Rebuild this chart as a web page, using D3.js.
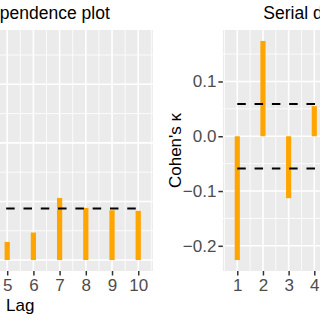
<!DOCTYPE html>
<html>
<head>
<meta charset="utf-8">
<script src="https://cdn.jsdelivr.net/npm/d3@7"></script>
<style>
  body { margin: 0; background: #fff; }
  text { font-family: 'Liberation Sans', Arial, sans-serif; }
</style>
</head>
<body>
<div id="chart-area"></div>
<script>
// DATA
const lagTicks = [1, 2, 3, 4, 5, 6, 7, 8, 9, 10]
const title = 'Serial dependence plot'

// left panel: only lags 5-10 are inside the picture
const leftLags = [5, 6, 7, 8, 9, 10]
const leftValues = [0.031, 0.047, 0.106, 0.089, 0.085, 0.084]
const leftDataRange = [0, 0.374]   // full range of the series (lags 1-4 are cut off)
const leftBounds = [0.088]
const leftYTicks = [0, 0.1, 0.2, 0.3]

// right panel: only lags 1-4 are inside the picture
const rightLags = [1, 2, 3, 4]
const rightValues = [-0.226, 0.174, -0.113, 0.055]
const rightBounds = [0.059, -0.059]
const rightYTicks = [-0.2, -0.1, 0.0, 0.1]
const rightYLabel = "Cohen's κ"

const W = 320
const H = 320
const TOP = 30
const BOTTOM = 271

const svg = d3.select('#chart-area').append('svg')
  .attr('width', W)
  .attr('height', H)

function panel(opts) {
  const { x0, x1, lags, values, range, bounds, yTicks, yLabel } = opts
  const g = svg.append('g')

  // SCALES (bars have width 0.2, ggplot-like 5% expansion)
  const xMin = d3.min(lagTicks) - 0.1
  const xMax = d3.max(lagTicks) + 0.1
  const xPad = (xMax - xMin) * 0.05
  const x = d3.scaleLinear()
    .domain([xMin - xPad, xMax + xPad])
    .range([x0, x1])

  const yPad = (range[1] - range[0]) * 0.05
  const y = d3.scaleLinear()
    .domain([range[0] - yPad, range[1] + yPad])
    .range([BOTTOM, TOP])

  // PANEL BACKGROUND
  g.append('rect')
    .attr('x', x0)
    .attr('y', TOP)
    .attr('width', x1 - x0)
    .attr('height', BOTTOM - TOP)
    .attr('fill', '#EBEBEB')

  // GRID
  const xd = x.domain()
  const yd = y.domain()
  const step = yTicks[1] - yTicks[0]
  const yMinor = d3.range(yTicks[0] - step / 2, yd[1], step).filter(v => v >= yd[0])
  const xMinor = d3.range(lagTicks[0] - 0.5, xd[1], 1).filter(v => v >= xd[0])

  g.selectAll('.ygrid-minor').data(yMinor).enter().append('line')
    .attr('x1', x0).attr('x2', x1)
    .attr('y1', d => y(d)).attr('y2', d => y(d))
    .attr('stroke', '#fff').attr('stroke-width', 0.8)
  g.selectAll('.xgrid-minor').data(xMinor).enter().append('line')
    .attr('y1', TOP).attr('y2', BOTTOM)
    .attr('x1', d => x(d)).attr('x2', d => x(d))
    .attr('stroke', '#fff').attr('stroke-width', 0.8)
  g.selectAll('.ygrid').data(yTicks).enter().append('line')
    .attr('x1', x0).attr('x2', x1)
    .attr('y1', d => y(d)).attr('y2', d => y(d))
    .attr('stroke', '#fff').attr('stroke-width', 1.6)
  g.selectAll('.xgrid').data(lagTicks).enter().append('line')
    .attr('y1', TOP).attr('y2', BOTTOM)
    .attr('x1', d => x(d)).attr('x2', d => x(d))
    .attr('stroke', '#fff').attr('stroke-width', 1.6)

  // BARS
  g.selectAll('.bar').data(lags).enter().append('rect')
    .attr('x', d => x(d - 0.1))
    .attr('width', d => x(d + 0.1) - x(d - 0.1))
    .attr('y', (d, i) => Math.min(y(values[i]), y(0)))
    .attr('height', (d, i) => Math.abs(y(values[i]) - y(0)))
    .attr('fill', '#FFA500')

  // BOUNDS
  g.selectAll('.bound').data(bounds).enter().append('line')
    .attr('x1', x(lagTicks[0])).attr('x2', x(lagTicks[lagTicks.length - 1]))
    .attr('y1', d => y(d)).attr('y2', d => y(d))
    .attr('stroke', '#000')
    .attr('stroke-width', 2)
    .attr('stroke-dasharray', '8.5,8.8')

  // AXES
  const xAxis = d3.axisBottom(x)
    .tickValues(lagTicks)
    .tickSize(4.5)
    .tickPadding(3)
    .tickFormat(d3.format('d'))
  const xg = g.append('g')
    .attr('transform', `translate(0, ${BOTTOM})`)
    .call(xAxis)
  xg.select('.domain').remove()

  const yAxis = d3.axisLeft(y)
    .tickValues(yTicks)
    .tickSize(4.5)
    .tickPadding(2)
    .tickFormat(d3.format('.1f'))
  const yg = g.append('g')
    .attr('transform', `translate(${x0}, 0)`)
    .call(yAxis)
  yg.select('.domain').remove()

  g.selectAll('.tick line').attr('stroke', '#333').attr('stroke-width', 1.5)
  g.selectAll('.tick text')
    .attr('fill', '#4D4D4D')
    .attr('font-size', '17px')
    .attr('font-family', "'Liberation Sans', Arial, sans-serif")

  // LABELS
  g.append('text')
    .attr('x', (x0 + x1) / 2)
    .attr('y', 311)
    .attr('font-size', '17px')
    .attr('text-anchor', 'middle')
    .text('Lag')

  if (yLabel) {
    g.append('text')
      .attr('x', -(TOP + BOTTOM) / 2)
      .attr('y', 181)
      .attr('font-size', '17px')
      .attr('text-anchor', 'middle')
      .attr('transform', 'rotate(-90)')
      .text(yLabel)
  }

  g.append('text')
    .attr('x', (x0 + x1) / 2)
    .attr('y', 18.5)
    .attr('font-size', '17.5px')
    .attr('text-anchor', 'middle')
    .text(title)
}

panel({
  x0: -112.3, x1: 152.9,
  lags: leftLags, values: leftValues, range: leftDataRange,
  bounds: leftBounds, yTicks: leftYTicks, yLabel: null
})

panel({
  x0: 222.9, x1: 482.7,
  lags: rightLags, values: rightValues, range: d3.extent(rightValues),
  bounds: rightBounds, yTicks: rightYTicks, yLabel: rightYLabel
})
</script>
</body>
</html>
